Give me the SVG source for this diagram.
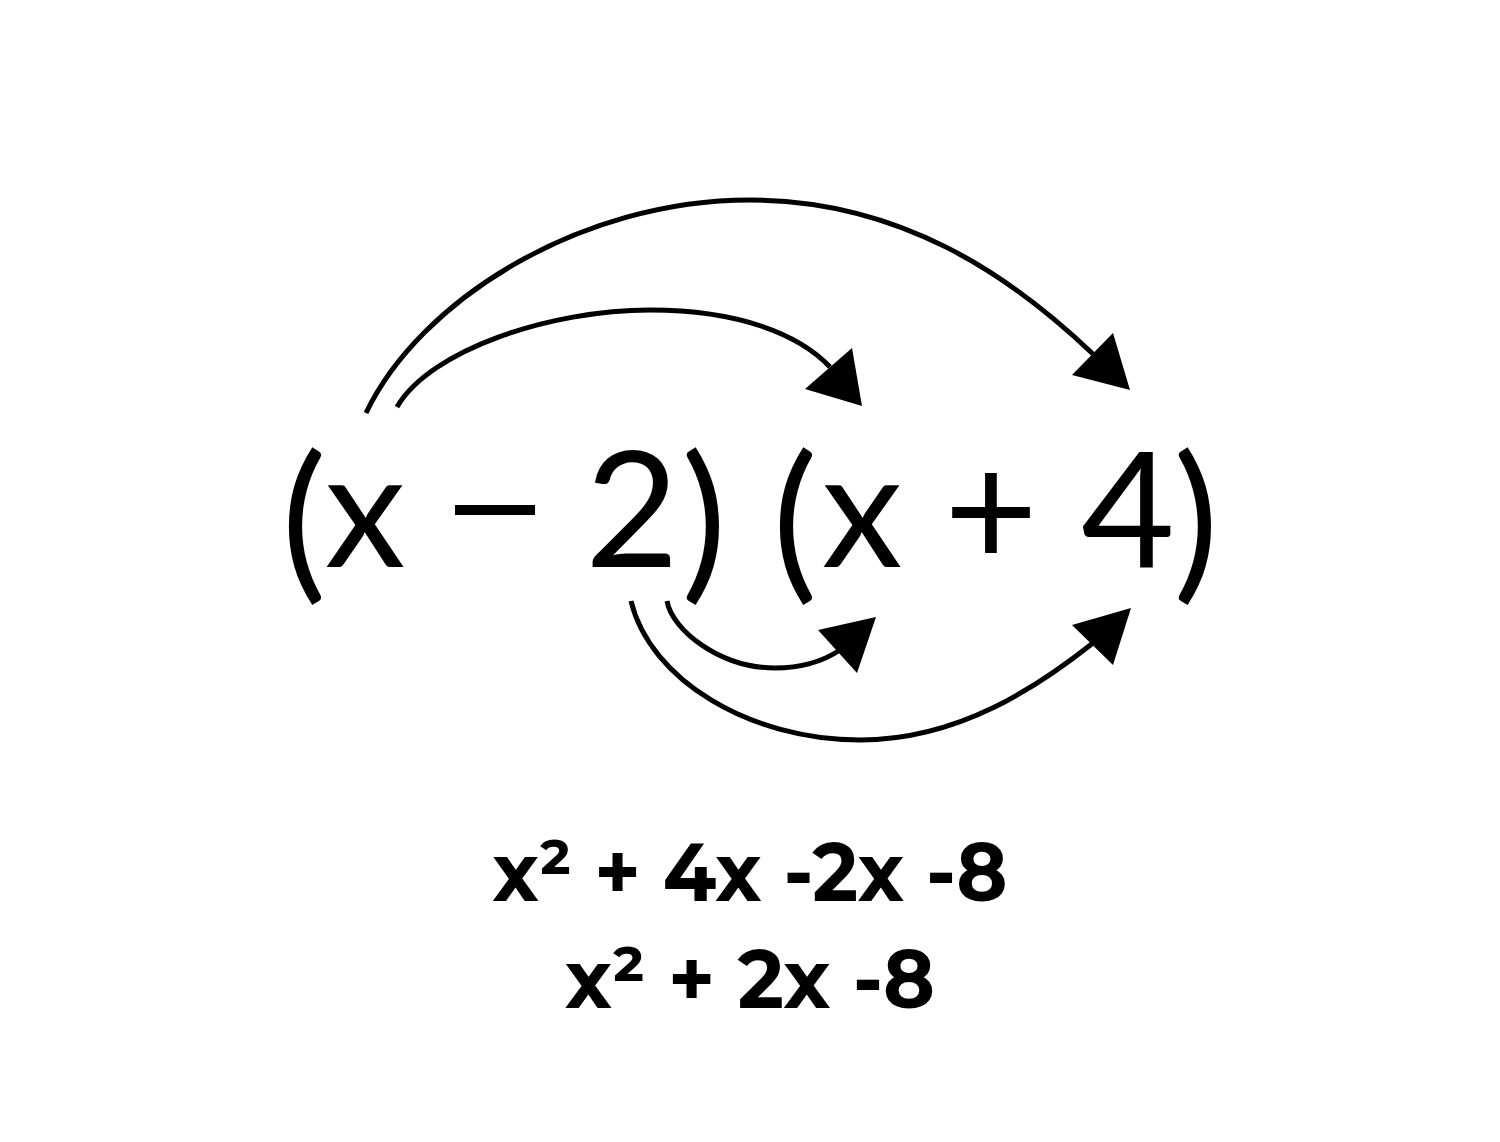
<svg xmlns="http://www.w3.org/2000/svg" width="1500" height="1142" viewBox="0 0 1500 1142">
<style>
.bg{fill:#fff}
.m{font-family:Lato,"Open Sans","Liberation Sans",sans-serif;font-weight:400;font-size:162px;fill:#000;text-anchor:middle}
.p{font-family:Lato,"Open Sans","Liberation Sans",sans-serif;font-weight:400;font-size:170px;fill:#000;text-anchor:middle}
.r{font-family:Montserrat,Lato,"Liberation Sans",sans-serif;font-weight:700;font-size:82px;fill:#000;text-anchor:middle}
.c{fill:none;stroke:#000;stroke-width:5}
.h{fill:#000}
</style>
<rect class="bg" width="1500" height="1142"/>
<g id="expression">
<text class="p" x="304" y="580">(</text>
<text class="m" x="365" y="567">x</text>
<rect x="455" y="505" width="80" height="10" fill="#000"/>
<text class="m" x="632" y="567">2</text>
<text class="p" x="704" y="580">)</text>
<text class="p" x="795" y="580">(</text>
<text class="m" x="862" y="567">x</text>
<text class="m" x="991" y="567">+</text>
<text class="m" x="1128" y="567">4</text>
<text class="p" x="1196" y="580">)</text>
</g>
<g id="connectors">
<path class="c" d="M366,413 C420,300 580,200 750,200 C900,200 1010,275 1093,354"/>
<polygon class="h" points="1072,375 1113,333 1130,390"/>
<path class="c" d="M397,407 C430,350 550,310 650,310 C740,310 800,335 830,367"/>
<polygon class="h" points="805,389 852,348 862,406"/>
<path class="c" d="M667,601 C672,630 720,668 775,668 C805,668 825,660 840,650"/>
<polygon class="h" points="818,630 876,617 857,673"/>
<path class="c" d="M631,601 C650,680 750,740 860,740 C960,740 1040,685 1093,643"/>
<polygon class="h" points="1072,625 1131,608 1113,665"/>
</g>
<g id="result">
<text class="r" x="750" y="901" textLength="515" lengthAdjust="spacingAndGlyphs">x² + 4x -2x -8</text>
<text class="r" x="750" y="1008" textLength="370" lengthAdjust="spacingAndGlyphs">x² + 2x -8</text>
</g>
</svg>
